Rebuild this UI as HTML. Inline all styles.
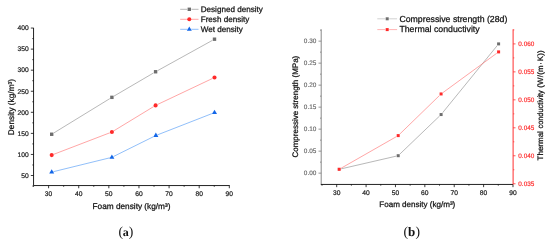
<!DOCTYPE html>
<html lang="en">
<head>
<meta charset="utf-8">
<title>Figure</title>
<style>
html,body{margin:0;padding:0;background:#fff;}
svg{display:block;}
text{font-family:"Liberation Sans", sans-serif;text-rendering:geometricPrecision;stroke-linejoin:round;}
.serif{font-family:"Liberation Serif", "DejaVu Serif", serif;}
.tk{font-size:6.7px;}
.k{fill:#1c1c1c;stroke:#1c1c1c;stroke-width:0.22px;}
.g{fill:#6b6b6b;stroke:#6b6b6b;stroke-width:0.15px;}
.r{fill:#ff3030;stroke:#ff3030;stroke-width:0.18px;}
.ti{font-size:8.1px;fill:#111;stroke:#111;stroke-width:0.25px;}
</style>
</head>
<body>
<svg width="550" height="244" viewBox="0 0 550 244">
<rect x="0" y="0" width="550" height="244" fill="#ffffff"/>
<g id="chartA">
<path d="M33.55 27.9V185.55H229.72" fill="none" stroke="#0a0a0a" stroke-width="0.9"/>
<path d="M33.55 175.51H30.85M33.55 154.44H30.85M33.55 133.38H30.85M33.55 112.31H30.85M33.55 91.25H30.85M33.55 70.18H30.85M33.55 49.12H30.85M33.55 28.05H30.85M33.55 186.04H32.35M33.55 164.97H32.35M33.55 143.91H32.35M33.55 122.84H32.35M33.55 101.78H32.35M33.55 80.71H32.35M33.55 59.65H32.35M33.55 38.58H32.35M48.6 185.55V188.25M78.72 185.55V188.25M108.84 185.55V188.25M138.96 185.55V188.25M169.08 185.55V188.25M199.2 185.55V188.25M229.32 185.55V188.25M33.54 185.55V186.75M63.66 185.55V186.75M93.78 185.55V186.75M123.9 185.55V186.75M154.02 185.55V186.75M184.14 185.55V186.75M214.26 185.55V186.75" fill="none" stroke="#0a0a0a" stroke-width="0.8"/>
<g class="tk k" text-anchor="end">
<text x="28.65" y="177.76">50</text>
<text x="28.65" y="156.69">100</text>
<text x="28.65" y="135.62">150</text>
<text x="28.65" y="114.56">200</text>
<text x="28.65" y="93.5">250</text>
<text x="28.65" y="72.43">300</text>
<text x="28.65" y="51.37">350</text>
<text x="28.65" y="30.3">400</text>
</g>
<g class="tk k" text-anchor="middle">
<text x="48.6" y="196.4">30</text>
<text x="78.72" y="196.4">40</text>
<text x="108.84" y="196.4">50</text>
<text x="138.96" y="196.4">60</text>
<text x="169.08" y="196.4">70</text>
<text x="199.2" y="196.4">80</text>
<text x="229.32" y="196.4">90</text>
</g>
<text class="ti" style="font-size:8.25px" x="131.5" y="208.8" text-anchor="middle">Foam density (kg/m³)</text>
<text class="ti" style="font-size:8.3px" transform="translate(13.6 107.0) rotate(-90)" text-anchor="middle">Density (kg/m³)</text>
<polyline points="51.7,134.25 111.9,97.35 155.6,71.75 214.5,39.2" fill="none" stroke="#8c8c8c" stroke-width="0.62"/>
<rect x="50" y="132.55" width="3.4" height="3.4" fill="#6e6e6e" stroke="#fff" stroke-width="0.9" paint-order="stroke"/>
<rect x="110.2" y="95.65" width="3.4" height="3.4" fill="#6e6e6e" stroke="#fff" stroke-width="0.9" paint-order="stroke"/>
<rect x="153.9" y="70.05" width="3.4" height="3.4" fill="#6e6e6e" stroke="#fff" stroke-width="0.9" paint-order="stroke"/>
<rect x="212.8" y="37.5" width="3.4" height="3.4" fill="#6e6e6e" stroke="#fff" stroke-width="0.9" paint-order="stroke"/>
<polyline points="51.7,155.1 111.9,132 155.6,105.4 214.5,77.5" fill="none" stroke="#ff6f6f" stroke-width="0.62"/>
<circle cx="51.7" cy="155.1" r="2.05" fill="#ff2a2a" stroke="#fff" stroke-width="0.7" paint-order="stroke"/>
<circle cx="111.9" cy="132" r="2.05" fill="#ff2a2a" stroke="#fff" stroke-width="0.7" paint-order="stroke"/>
<circle cx="155.6" cy="105.4" r="2.05" fill="#ff2a2a" stroke="#fff" stroke-width="0.7" paint-order="stroke"/>
<circle cx="214.5" cy="77.5" r="2.05" fill="#ff2a2a" stroke="#fff" stroke-width="0.7" paint-order="stroke"/>
<polyline points="51.7,172.1 111.9,157.3 155.85,135.5 214.5,112.6" fill="none" stroke="#4d97f5" stroke-width="0.62"/>
<path d="M51.7 169.22L54.2 173.54L49.2 173.54Z" fill="#1266e8" stroke="#fff" stroke-width="0.7" paint-order="stroke"/>
<path d="M111.9 154.42L114.4 158.75L109.4 158.75Z" fill="#1266e8" stroke="#fff" stroke-width="0.7" paint-order="stroke"/>
<path d="M155.85 132.62L158.35 136.94L153.35 136.94Z" fill="#1266e8" stroke="#fff" stroke-width="0.7" paint-order="stroke"/>
<path d="M214.5 109.71L217 114.04L212 114.04Z" fill="#1266e8" stroke="#fff" stroke-width="0.7" paint-order="stroke"/>
<path d="M180.2 9.3H198.5" stroke="#8c8c8c" stroke-width="0.62" fill="none"/>
<rect x="187.6" y="7.6" width="3.4" height="3.4" fill="#6e6e6e" stroke="#fff" stroke-width="0.9" paint-order="stroke"/>
<text class="ti" x="200.7" y="12.2">Designed density</text>
<path d="M180.2 19.3H198.5" stroke="#ff6f6f" stroke-width="0.62" fill="none"/>
<circle cx="189.3" cy="19.3" r="2.05" fill="#ff2a2a" stroke="#fff" stroke-width="0.7" paint-order="stroke"/>
<text class="ti" x="200.7" y="22.2">Fresh density</text>
<path d="M180.2 29.3H198.5" stroke="#4d97f5" stroke-width="0.62" fill="none"/>
<path d="M189.3 26.41L191.8 30.75L186.8 30.75Z" fill="#1266e8" stroke="#fff" stroke-width="0.7" paint-order="stroke"/>
<text class="ti" x="200.7" y="32.2">Wet density</text>
<text class="serif" y="235.8" fill="#111"><tspan x="118.6" font-size="13.7">(</tspan><tspan x="122.8" font-size="12" font-weight="bold">a</tspan><tspan x="128.8" font-size="13.7">)</tspan></text>
</g>
<g id="chartB">
<path d="M321.2 29.3V184.45" fill="none" stroke="#7c7c7c" stroke-width="0.9"/>
<path d="M321.2 173.15H318.5M321.2 151.15H318.5M321.2 129.15H318.5M321.2 107.15H318.5M321.2 85.15H318.5M321.2 63.15H318.5M321.2 41.15H318.5M321.2 162.15H320M321.2 140.15H320M321.2 118.15H320M321.2 96.15H320M321.2 74.15H320M321.2 52.15H320M321.2 30.15H320" fill="none" stroke="#7c7c7c" stroke-width="0.8"/>
<g class="tk g" style="font-size:6.45px" text-anchor="end">
<text x="316.4" y="175.15">0.00</text>
<text x="316.4" y="153.15">0.05</text>
<text x="316.4" y="131.15">0.10</text>
<text x="316.4" y="109.15">0.15</text>
<text x="316.4" y="87.15">0.20</text>
<text x="316.4" y="65.15">0.25</text>
<text x="316.4" y="43.15">0.30</text>
</g>
<path d="M320.8 184.45H513.1" fill="none" stroke="#0a0a0a" stroke-width="0.9"/>
<path d="M336.7 184.45V187.15M366.08 184.45V187.15M395.46 184.45V187.15M424.84 184.45V187.15M454.22 184.45V187.15M483.6 184.45V187.15M512.98 184.45V187.15M322.01 184.45V185.65M351.39 184.45V185.65M380.77 184.45V185.65M410.15 184.45V185.65M439.53 184.45V185.65M468.91 184.45V185.65M498.29 184.45V185.65" fill="none" stroke="#0a0a0a" stroke-width="0.8"/>
<g class="tk k" text-anchor="middle">
<text x="336.7" y="194.5">30</text>
<text x="366.08" y="194.5">40</text>
<text x="395.46" y="194.5">50</text>
<text x="424.84" y="194.5">60</text>
<text x="454.22" y="194.5">70</text>
<text x="483.6" y="194.5">80</text>
<text x="512.98" y="194.5">90</text>
</g>
<path d="M513.1 29.3V184.45" fill="none" stroke="#ff3030" stroke-width="1.0"/>
<path d="M513.1 183.75H515.5M513.1 155.78H515.5M513.1 127.81H515.5M513.1 99.84H515.5M513.1 71.87H515.5M513.1 43.9H515.5M513.1 169.77H514.3M513.1 141.8H514.3M513.1 113.83H514.3M513.1 85.86H514.3M513.1 57.89H514.3M513.1 29.92H514.3" fill="none" stroke="#ff3030" stroke-width="0.8"/>
<g class="tk r" style="font-size:6.4px" text-anchor="start">
<text x="518.3" y="185.9">0.035</text>
<text x="518.3" y="157.93">0.040</text>
<text x="518.3" y="129.96">0.045</text>
<text x="518.3" y="101.99">0.050</text>
<text x="518.3" y="74.02">0.055</text>
<text x="518.3" y="46.05">0.060</text>
</g>
<text class="ti" style="font-size:8.05px" x="417.3" y="207.1" text-anchor="middle">Foam density (kg/m³)</text>
<text class="ti" style="font-size:8.0px" transform="translate(298 106.65) rotate(-90)" text-anchor="middle">Compressive strength (MPa)</text>
<text class="ti" style="font-size:7.9px" transform="translate(543.3 0) rotate(-90)"><tspan x="-160.4" textLength="29.3" lengthAdjust="spacingAndGlyphs">Thermal</tspan> <tspan x="-128.45" textLength="38.2" lengthAdjust="spacingAndGlyphs">conductivity</tspan> <tspan x="-87.75" letter-spacing="0.22">(W/(m</tspan><tspan dx="0.5">·</tspan><tspan dx="0.7" letter-spacing="0.22">K))</tspan></text>
<polyline points="339.2,169.3 398.2,155.7 441.1,114.55 498.6,43.9" fill="none" stroke="#8c8c8c" stroke-width="0.62"/>
<rect x="337.7" y="167.8" width="3" height="3" fill="#6e6e6e" stroke="#fff" stroke-width="0.9" paint-order="stroke"/>
<rect x="396.7" y="154.2" width="3" height="3" fill="#6e6e6e" stroke="#fff" stroke-width="0.9" paint-order="stroke"/>
<rect x="439.6" y="113.05" width="3" height="3" fill="#6e6e6e" stroke="#fff" stroke-width="0.9" paint-order="stroke"/>
<rect x="497.1" y="42.4" width="3" height="3" fill="#6e6e6e" stroke="#fff" stroke-width="0.9" paint-order="stroke"/>
<polyline points="339.2,169.3 398.2,135.6 441.1,93.95 498.6,51.9" fill="none" stroke="#ff6f6f" stroke-width="0.62"/>
<rect x="337.7" y="167.8" width="3" height="3" fill="#ff2a2a" stroke="#fff" stroke-width="0.9" paint-order="stroke"/>
<rect x="396.7" y="134.1" width="3" height="3" fill="#ff2a2a" stroke="#fff" stroke-width="0.9" paint-order="stroke"/>
<rect x="439.6" y="92.45" width="3" height="3" fill="#ff2a2a" stroke="#fff" stroke-width="0.9" paint-order="stroke"/>
<rect x="497.1" y="50.4" width="3" height="3" fill="#ff2a2a" stroke="#fff" stroke-width="0.9" paint-order="stroke"/>
<path d="M377.3 18.8H397.1" stroke="#b5b5b5" stroke-width="0.62" fill="none"/>
<rect x="385.7" y="17.3" width="3" height="3" fill="#6e6e6e" stroke="#fff" stroke-width="0.9" paint-order="stroke"/>
<text class="ti" style="font-size:8.75px" x="399.4" y="21.5">Compressive strength (28d)</text>
<path d="M377.3 29.6H397.1" stroke="#ff8585" stroke-width="0.62" fill="none"/>
<rect x="385.7" y="28.1" width="3" height="3" fill="#ff2a2a" stroke="#fff" stroke-width="0.9" paint-order="stroke"/>
<text class="ti" style="font-size:8.75px" x="399.4" y="32.3">Thermal conductivity</text>
<text class="serif" y="235.8" fill="#111"><tspan x="403.6" font-size="13.7">(</tspan><tspan x="407.9" font-size="13" font-weight="bold">b</tspan><tspan x="415.4" font-size="13.7">)</tspan></text>
</g>
</svg>
</body>
</html>
